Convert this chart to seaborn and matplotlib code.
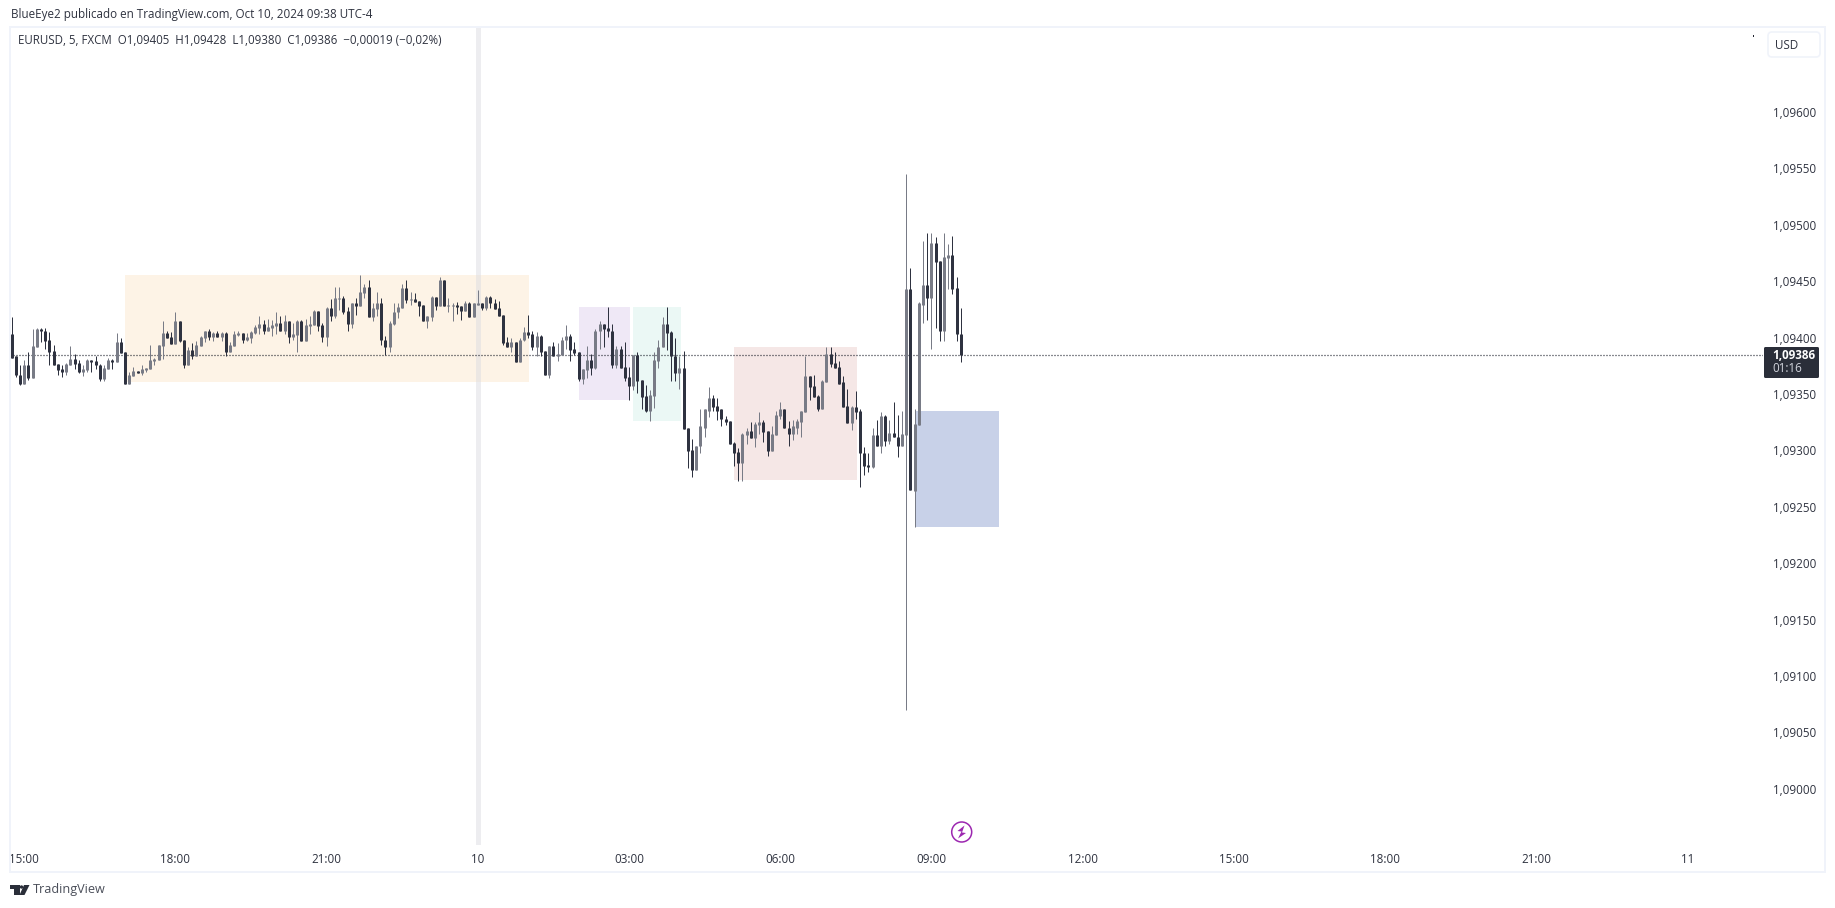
import matplotlib
matplotlib.use("Agg")
import matplotlib.pyplot as plt
from matplotlib.patches import Rectangle, FancyBboxPatch, Circle, Polygon
from matplotlib.transforms import ScaledTranslation
import pandas as pd
import seaborn as sns

# Prices are in points above 1.09000 (1 point = 0.00001)
BASE = 1.09
POINT = 1e-5

opens = [405,385,369,361,377,366,393,409,408,400,
 390,378,374,371,377,383,379,371,373,382,
 381,377,365,374,382,380,398,389,361,368,
 372,370,373,374,381,382,394,406,402,396,
 416,400,377,391,385,394,401,408,402,406,
 402,406,389,394,404,406,400,401,406,410,
 414,408,410,412,415,408,416,402,404,416,
 399,412,413,425,413,402,428,421,436,437,
 425,414,432,430,441,447,420,427,432,400,
 393,414,424,428,446,435,436,434,431,416,
 420,438,430,453,430,430,431,430,425,432,
 420,431,432,428,438,432,428,422,398,393,
 398,380,400,407,405,393,403,390,369,394,
 385,386,400,403,392,389,365,373,382,375,
 408,414,410,408,377,392,376,367,359,386,
 364,350,337,350,381,393,414,407,385,370,
 375,322,302,284,306,322,337,348,341,338,
 330,328,308,300,291,315,319,313,324,327,
 319,301,315,332,338,322,316,322,327,336,
 368,359,350,338,362,387,379,376,362,341,
 326,340,337,299,289,287,315,306,332,310,
 317,314,306,315,445,266,324,431,448,437,
 486,470,408,472,475,446,405]
highs = [420,385,377,382,389,409,410,410,410,407,
 395,378,377,379,394,387,382,377,383,382,
 385,378,377,384,383,406,401,389,371,376,
 372,377,375,395,384,395,416,408,407,424,
 416,400,393,397,399,403,408,409,407,408,
 407,407,398,408,408,406,406,408,413,421,
 417,418,417,424,421,422,416,415,417,417,
 418,421,426,425,415,429,436,447,447,439,
 429,432,437,457,449,453,432,442,437,403,
 416,432,432,449,453,442,441,434,431,421,
 439,438,455,453,437,432,433,430,434,433,
 432,444,432,439,439,436,434,422,402,401,
 398,401,411,422,408,407,404,390,394,398,
 397,402,413,405,398,389,374,394,387,409,
 416,414,429,414,394,394,398,376,386,389,
 364,360,355,389,400,420,429,408,401,385,
 390,322,312,306,338,338,358,351,348,338,
 332,328,309,304,317,322,327,327,336,329,
 319,323,337,345,338,328,329,330,337,385,
 368,369,351,364,393,393,389,381,368,356,
 341,354,338,305,299,322,329,336,333,329,
 345,333,337,547,463,338,433,487,494,494,
 491,470,494,485,492,455,428]
lows = [384,367,360,361,364,366,393,398,392,377,
 377,369,367,369,377,374,370,368,371,371,
 374,363,363,374,374,380,388,361,361,368,
 370,369,371,374,377,382,383,401,396,396,
 398,375,377,383,385,394,398,400,399,402,
 399,385,389,394,403,397,399,397,405,405,
 405,408,403,405,408,405,397,400,389,399,
 399,405,413,408,398,394,416,419,426,423,
 408,410,422,430,437,420,416,421,395,386,
 389,413,419,428,432,431,433,421,416,410,
 416,426,430,430,424,416,423,417,425,420,
 420,431,426,426,428,427,421,395,393,389,
 380,380,399,401,391,385,385,369,366,385,
 381,386,392,381,386,363,361,366,369,374,
 392,393,402,375,375,375,363,346,355,353,
 338,336,328,339,375,393,391,363,363,356,
 321,286,278,284,299,314,331,337,329,323,
 324,307,288,275,275,307,313,305,316,309,
 297,301,315,330,322,306,311,316,314,336,
 346,349,337,338,362,376,375,361,340,326,
 320,330,269,280,283,286,306,299,306,307,
 314,296,306,72,267,234,324,415,417,392,
 410,399,399,445,440,399,380]
closes = [384,369,361,377,366,394,409,408,399,389,
 377,373,371,378,383,378,371,374,382,380,
 377,365,375,382,380,398,388,361,369,372,
 370,374,375,382,383,395,406,401,396,416,
 399,377,391,385,395,402,408,402,406,402,
 406,389,395,405,406,400,402,407,411,414,
 408,411,413,415,408,416,402,405,416,399,
 413,414,425,412,402,428,421,437,437,424,
 414,432,430,442,447,420,428,432,400,393,
 415,424,429,446,435,436,433,430,416,421,
 438,430,453,430,431,431,429,425,432,420,
 432,432,428,438,432,427,421,397,393,398,
 380,400,407,404,393,403,389,369,394,385,
 387,400,403,391,388,365,374,382,375,408,
 414,409,408,377,392,375,366,359,386,363,
 349,337,351,382,393,414,406,385,370,375,
 321,301,284,306,323,338,348,340,337,330,
 327,307,299,291,316,319,313,325,327,318,
 301,316,333,338,322,316,323,328,337,368,
 358,349,338,363,387,378,375,361,340,326,
 340,336,299,288,287,315,306,332,310,317,
 314,306,316,445,267,325,432,448,437,486,
 469,408,473,475,445,405,386]

# Drawn zones: candle-index span and price span (points)
zone_start = [26.95, 135.05, 147.95, 171.95, 215.05]
zone_end = [123.15, 147.25, 159.35, 201.25, 235.05]
zone_top = [457, 429, 429, 393, 337]
zone_bottom = [362, 346, 328, 275.5, 234]
zone_colors = ["#fdf3e6", "#efe8f6", "#ebf8f5", "#f5e7e6", "#c8d1e8"]

tick_index = [3, 39, 75, 111, 147, 183, 219, 255, 291, 327, 363, 399]
tick_labels = ["15:00", "18:00", "21:00", "10", "03:00", "06:00", "09:00",
               "12:00", "15:00", "18:00", "21:00", "11"]
price_ticks = [0, 50, 100, 150, 200, 250, 300, 350, 400, 450, 500, 550, 600]
last_price = 386
session_break = 111

DOWN = "#2e3240"
UP = "#787b86"
TEXT = "#2f3340"
FONT = ["Open Sans", "DejaVu Sans"]
SIZE = 8.4

W, H = 1835, 908
sns.set_theme(style="white")
plt.rcParams["font.family"] = FONT

fig = plt.figure(figsize=(W / 100, H / 100), dpi=100, facecolor="white")
ax = fig.add_axes([10 / W, 1 - 845 / H, (1763 - 10) / W, (845 - 27) / H])

df = pd.DataFrame({"open": opens, "high": highs, "low": lows, "close": closes})
df["candle"] = range(len(df))
df["colour"] = [DOWN if c < o else UP for o, c in zip(opens, closes)]

for s, e, t, b, c in zip(zone_start, zone_end, zone_top, zone_bottom, zone_colors):
    ax.add_patch(Rectangle((s, BASE + b * POINT), e - s, (t - b) * POINT,
                           facecolor=c, edgecolor="none", zorder=1))

ax.axvspan(session_break - 0.35, session_break + 0.65, facecolor="#dcdce2",
           alpha=0.5, edgecolor="none", zorder=1.5)
ax.axhline(BASE + last_price * POINT, color="#131722", lw=0.9,
           linestyle=(0, (0.8, 1.6)), zorder=1.8)


def long_form(frame, a, b):
    return pd.concat([
        pd.DataFrame({"candle": frame["candle"], "price": BASE + frame[a] * POINT}),
        pd.DataFrame({"candle": frame["candle"], "price": BASE + frame[b] * POINT}),
    ]).sort_values("candle", kind="stable")


for colour in (UP, DOWN):
    part = df[df["colour"] == colour]
    sns.lineplot(data=long_form(part, "low", "high"), x="candle", y="price",
                 units="candle", estimator=None, sort=False, color=colour,
                 linewidth=0.72, solid_capstyle="butt", legend=False, ax=ax, zorder=3)
    sns.lineplot(data=long_form(part, "open", "close"), x="candle", y="price",
                 units="candle", estimator=None, sort=False, color=colour,
                 linewidth=2.16, solid_capstyle="butt", legend=False, ax=ax, zorder=3)

ax.set_xlim(-0.4, 417.05)
ax.set_ylim(BASE - 48 * POINT, BASE + 677 * POINT)
ax.set_xlabel("")
ax.set_ylabel("")
for sp in ax.spines.values():
    sp.set_visible(False)
ax.set_xticks(tick_index)
ax.set_xticklabels(tick_labels)
ax.yaxis.tick_right()
ax.set_yticks([BASE + p * POINT for p in price_ticks])
ax.set_yticklabels([f"{BASE + p * POINT:.5f}".replace(".", ",") for p in price_ticks])
ax.tick_params(axis="x", length=0, pad=6, labelsize=SIZE, labelcolor=TEXT)
ax.tick_params(axis="y", length=0, pad=7, labelsize=SIZE, labelcolor=TEXT)
up2px = ScaledTranslation(0, 2 / 100, fig.dpi_scale_trans)
for lab in ax.get_yticklabels():
    lab.set_ha("left")
    lab.set_transform(lab.get_transform() + up2px)


def fx(x):
    return x / W


def fy(y):
    return 1 - y / H


def box(x0, y0, x1, y1, **kw):
    fig.add_artist(Rectangle((fx(x0), fy(y1)), (x1 - x0) / W, (y1 - y0) / H,
                             transform=fig.transFigure, **kw))


# outer frame
box(10, 26.5, 1825, 872, facecolor="none", edgecolor="#f0f3fa", linewidth=1.44)

# header and legend
fig.text(fx(10.5), fy(14.5), "BlueEye2 publicado en TradingView.com, Oct 10, 2024 09:38 UTC-4",
         fontsize=SIZE, color=TEXT, va="center", ha="left")
fig.text(fx(18), fy(41), "EURUSD, 5, FXCM  O1,09405  H1,09428  L1,09380  C1,09386  \u22120,00019 (\u22120,02%)",
         fontsize=8.3, color=TEXT, va="center", ha="left")

# currency button
fig.add_artist(FancyBboxPatch((1769, H - 56), 50, 23, boxstyle="round,pad=1,rounding_size=4",
                              transform=None, facecolor="white", edgecolor="#f0f3fa", linewidth=1.2))
fig.text(fx(1787), fy(45.5), "USD", fontsize=SIZE, color=TEXT, va="center", ha="center")

# stray dot
box(1752.5, 35.5, 1754, 37, facecolor="#1e222d", edgecolor="none")

# price tag
fig.add_artist(FancyBboxPatch((1765, H - 377), 53, 29, boxstyle="round,pad=1,rounding_size=1.5",
                              transform=None, facecolor="#2a2e39", edgecolor="none"))
fig.text(fx(1772), fy(355.5), "1,09386", fontsize=SIZE, fontweight="bold", color="white", va="center", ha="left")
fig.text(fx(1772), fy(369), "01:16", fontsize=SIZE, color="#d1d4dc", va="center", ha="left")

# news marker
fig.add_artist(Circle((961.7, H - 832), 10, transform=None, facecolor="white",
                      edgecolor="#9c27b0", linewidth=1.1))
fig.add_artist(Polygon([(964.5, H - 825.5), (957.5, H - 831), (961.5, H - 831.5), (958, H - 838.5),
                        (966, H - 833), (962, H - 832.5)], transform=None,
                       facecolor="#9c27b0", edgecolor="none"))

# TradingView logo
LOGO = "#2a2e39"
box(10, 885, 19.5, 888.5, facecolor=LOGO, edgecolor="none")
box(14, 888.5, 19.5, 895, facecolor=LOGO, edgecolor="none")
fig.add_artist(Circle((21.5, H - 887), 1.7, transform=None, facecolor=LOGO, edgecolor="none"))
fig.add_artist(Polygon([(24, H - 885), (29.5, H - 885), (24.5, H - 895), (19.5, H - 895)],
                       transform=None, facecolor=LOGO, edgecolor="none"))
fig.text(fx(33), fy(890), "TradingView", fontsize=9.1, color="#4a4e59", va="center", ha="left")

fig.savefig("out.png", dpi=100, facecolor="white")
